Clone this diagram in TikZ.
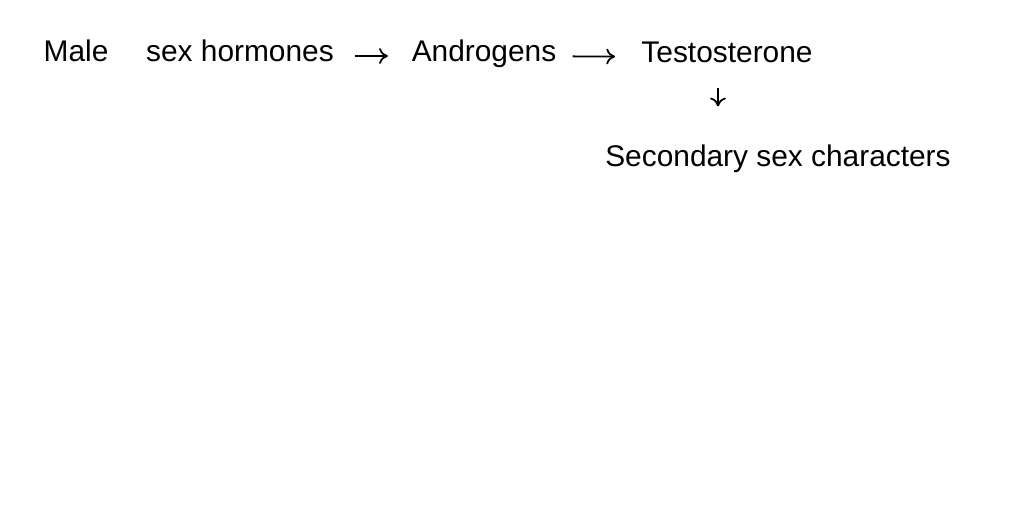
\documentclass[tikz,border=0pt]{standalone}
\usepackage{fontspec}
\setmainfont{Liberation Sans}
\usetikzlibrary{positioning}
\usetikzlibrary{arrows.meta}

\begin{document}
\begin{tikzpicture}[
    word/.style={%
      font=\fontsize{17}{20}\selectfont,
      text height=1.6ex,
      text depth=0.5ex,
      inner sep=2pt,
    },
    link/.style={%
      -{To[length=5pt,width=9pt]},
      line width=1pt,
      shorten >=0.4cm,
      shorten <=0.35cm,
    },
  ]

    \useasboundingbox (0,0) rectangle (20.48,-10.24);

    \node [word] (male) at (1.52,-1.12) {Male};
    \path (male) ++(3.28,0) node [word] (hormones) {sex hormones};
    \path (hormones) ++(4.88,0) node [word] (androgens) {Androgens};
    \path (androgens) ++(4.86,-0.02) node [word] (testo) {Testosterone};
    \path (testo) ++(1.02,-2.08) node [word] (secondary) {Secondary sex characters};


    \draw [link] (hormones) -- (androgens);
    \draw [link,shorten <=0.25cm,shorten >=0.45cm] (androgens) -- (testo);
    \draw [link,shorten >=0.82cm,shorten <=0.34cm] (testo.south -| 14.36,0) -- (secondary.north -| 14.36,0);


\end{tikzpicture}
\end{document}
